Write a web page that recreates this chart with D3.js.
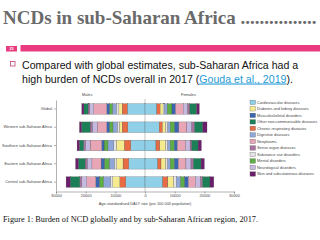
<!DOCTYPE html>
<html>
<head>
<meta charset="utf-8">
<script src="https://cdn.jsdelivr.net/npm/d3@7"></script>
<style>
  body { margin: 0; background: #fff; }
  svg { display: block; }
</style>
</head>
<body>
<script>
// regions, top to bottom
const regions = [
  'Global',
  'Western sub-Saharan Africa',
  'Southern sub-Saharan Africa',
  'Eastern sub-Saharan Africa',
  'Central sub-Saharan Africa'
];

// legend order
const legendKeys = [
  'Cardiovascular diseases',
  'Diabetes and kidney diseases',
  'Musculoskeletal disorders',
  'Other non-communicable diseases',
  'Chronic respiratory diseases',
  'Digestive diseases',
  'Neoplasms',
  'Sense organ diseases',
  'Substance use disorders',
  'Mental disorders',
  'Neurological disorders',
  'Skin and subcutaneous diseases'
];

const legendColors = [
  '#8fd0e8', '#f5ea8e', '#3a65b0', '#1b8057', '#e86b44', '#8fa7d8',
  '#e7a5b5', '#a7729f', '#e4e4e4', '#5dae45', '#c6b9e0', '#6c1d6c'
];

// stacking order, from 0 outwards
const stackKeys = [
  'Cardiovascular diseases',
  'Chronic respiratory diseases',
  'Diabetes and kidney diseases',
  'Substance use disorders',
  'Digestive diseases',
  'Mental disorders',
  'Musculoskeletal disorders',
  'Neoplasms',
  'Neurological disorders',
  'Sense organ diseases',
  'Other non-communicable diseases',
  'Skin and subcutaneous diseases'
];

// age-standardised DALY rates, one row per region, in stackKeys order
const males = [
  [6000, 1700, 1100,  900, 1300, 1000,  900, 4400, 1300, 600, 1400,  700],
  [5800, 1900, 1000,  700, 1400, 1200,  900, 3200, 1700, 700, 2900,  700],
  [4800, 2200, 2700,  800, 2000, 1300,  800, 3900, 1600, 600, 1400,  800],
  [5500, 1900, 2200,  800, 1700, 1600, 1100, 3100, 1600, 700, 2300,  900],
  [6500, 2000, 2400,  700, 2400, 1400, 1200, 3000, 1700, 700, 3200, 1400]
];
const females = [
  [4000, 1100, 1000,  500,  900, 1600, 1200, 2600, 1500, 700, 2300,  900],
  [4800, 1100, 1100,  700,  800, 1500, 1400, 2700, 1700, 900, 2800, 1400],
  [3700, 1300, 2000,  700,  800, 1400, 1000, 2800, 1500, 600, 2100, 1100],
  [4300, 1100, 1600,  700,  800, 1400, 1300, 2600, 1700, 800, 2600, 1100],
  [6000, 1700, 2000,  900, 1400, 1400, 1200, 2400, 1700, 700, 2500, 1300]
];

const xTicks = [-30000, -20000, -10000, 0, 10000, 20000, 30000];

const svg = d3.select('body').append('svg')
  .attr('width', 320).attr('height', 240);

const pink = '#ea3a80';

// slide header
svg.append('text')
  .attr('x', 3).attr('y', 23.5)
  .attr('font-family', '"Liberation Serif", serif')
  .attr('font-weight', 'bold')
  .attr('font-size', 19)
  .attr('fill', '#6a6a6a')
  .text('NCDs in sub-Saharan Africa ................');

svg.append('rect').attr('x', 20.5).attr('y', 45).attr('width', 300).attr('height', 6.5).attr('fill', pink);
svg.append('rect').attr('x', 6).attr('y', 46).attr('width', 11).attr('height', 5.5).attr('fill', pink);
svg.append('text')
  .attr('x', 11.5).attr('y', 50.3)
  .attr('text-anchor', 'middle')
  .attr('font-family', '"Liberation Sans", sans-serif')
  .attr('font-weight', 'bold')
  .attr('font-size', 3.8)
  .attr('fill', '#fff')
  .text('23');

// bullet
svg.append('rect')
  .attr('x', 10.5).attr('y', 61.5).attr('width', 4.5).attr('height', 4.5)
  .attr('fill', 'none').attr('stroke', '#c9587f').attr('stroke-width', 0.9);

const bodyFont = '"Liberation Sans", Arial, sans-serif';
svg.append('text')
  .attr('x', 22).attr('y', 68.5)
  .attr('font-family', bodyFont).attr('font-size', 10.6).attr('fill', '#111')
  .text('Compared with global estimates, sub-Saharan Africa had a');

const line2 = svg.append('text')
  .attr('x', 22).attr('y', 82.5)
  .attr('font-family', bodyFont).attr('font-size', 10.6).attr('fill', '#111');
line2.append('tspan').text('high burden of NCDs overall in 2017 (');
line2.append('tspan').attr('fill', '#1f9ad6').attr('text-decoration', 'underline').text('Gouda et al., 2019');
line2.append('tspan').text(').');

// chart
const chartFont = '"Liberation Sans", Arial, sans-serif';
const small = 3.9;
const x = d3.scaleLinear().domain([-30000, 30000]).range([56, 234]);
const y = d3.scaleBand().domain(regions).range([100, 191]).paddingInner(0.42).paddingOuter(0.2);
const color = d3.scaleOrdinal().domain(legendKeys).range(legendColors);

function toRows(values) {
  return regions.map((r, i) => {
    const row = { region: r };
    stackKeys.forEach((k, j) => { row[k] = values[i][j]; });
    return row;
  });
}

const stack = d3.stack().keys(stackKeys);

function drawSide(values, sign) {
  const series = stack(toRows(values));
  svg.append('g')
    .selectAll('g')
    .data(series)
    .join('g')
    .attr('fill', d => color(d.key))
    .selectAll('rect')
    .data(d => d)
    .join('rect')
    .attr('x', d => Math.min(x(sign * d[0]), x(sign * d[1])))
    .attr('width', d => Math.abs(x(sign * d[1]) - x(sign * d[0])))
    .attr('y', d => y(d.data.region))
    .attr('height', y.bandwidth())
    .attr('stroke', '#4a4a4a')
    .attr('stroke-width', 0.25);
}

// zero line
svg.append('line')
  .attr('x1', x(0)).attr('x2', x(0))
  .attr('y1', 99).attr('y2', 191.5)
  .attr('stroke', '#888').attr('stroke-width', 0.5);

drawSide(males, -1);
drawSide(females, 1);

const xAxis = svg.append('g')
  .attr('transform', 'translate(0,191.5)')
  .call(d3.axisBottom(x).tickValues(xTicks).tickSize(2).tickPadding(1).tickFormat(d => String(Math.abs(d))));
xAxis.select('.domain').attr('stroke', '#666').attr('stroke-width', 0.5);
xAxis.selectAll('.tick line').attr('stroke', '#666').attr('stroke-width', 0.5);
xAxis.selectAll('text').attr('font-family', chartFont).attr('font-size', small).attr('fill', '#444');

const yAxis = svg.append('g')
  .attr('transform', 'translate(56,0)')
  .call(d3.axisLeft(y).tickSize(2).tickPadding(2).tickSizeOuter(0));
yAxis.select('.domain').attr('stroke', '#666').attr('stroke-width', 0.5);
yAxis.selectAll('.tick line').attr('stroke', '#666').attr('stroke-width', 0.5);
yAxis.selectAll('text').attr('font-family', chartFont).attr('font-size', small).attr('fill', '#444');

svg.append('text')
  .attr('x', x(0)).attr('y', 205)
  .attr('text-anchor', 'middle')
  .attr('font-family', chartFont).attr('font-size', small).attr('fill', '#444')
  .text('Age-standardised DALY rate (per 100 000 population)');

svg.append('text')
  .attr('x', 82).attr('y', 96)
  .attr('font-family', chartFont).attr('font-size', small).attr('fill', '#444')
  .text('Males');
svg.append('text')
  .attr('x', 181).attr('y', 96)
  .attr('font-family', chartFont).attr('font-size', small).attr('fill', '#444')
  .text('Females');

// legend
const legend = svg.append('g')
  .selectAll('g')
  .data(legendKeys)
  .join('g')
  .attr('transform', (d, i) => `translate(250,${102.3 + i * 6.52})`);
legend.append('rect')
  .attr('x', 0).attr('y', -2.2).attr('width', 5.5).attr('height', 4.4)
  .attr('fill', d => color(d))
  .attr('stroke', '#555').attr('stroke-width', 0.3);
legend.append('text')
  .attr('x', 7).attr('y', 1.4)
  .attr('font-family', chartFont).attr('font-size', small).attr('fill', '#444')
  .text(d => d);

// caption
svg.append('text')
  .attr('x', 3).attr('y', 222)
  .attr('font-family', '"Liberation Serif", "Times New Roman", serif')
  .attr('font-size', 8.3).attr('fill', '#111')
  .text('Figure 1:  Burden of NCD globally and by sub-Saharan African region, 2017.');
</script>
</body>
</html>
